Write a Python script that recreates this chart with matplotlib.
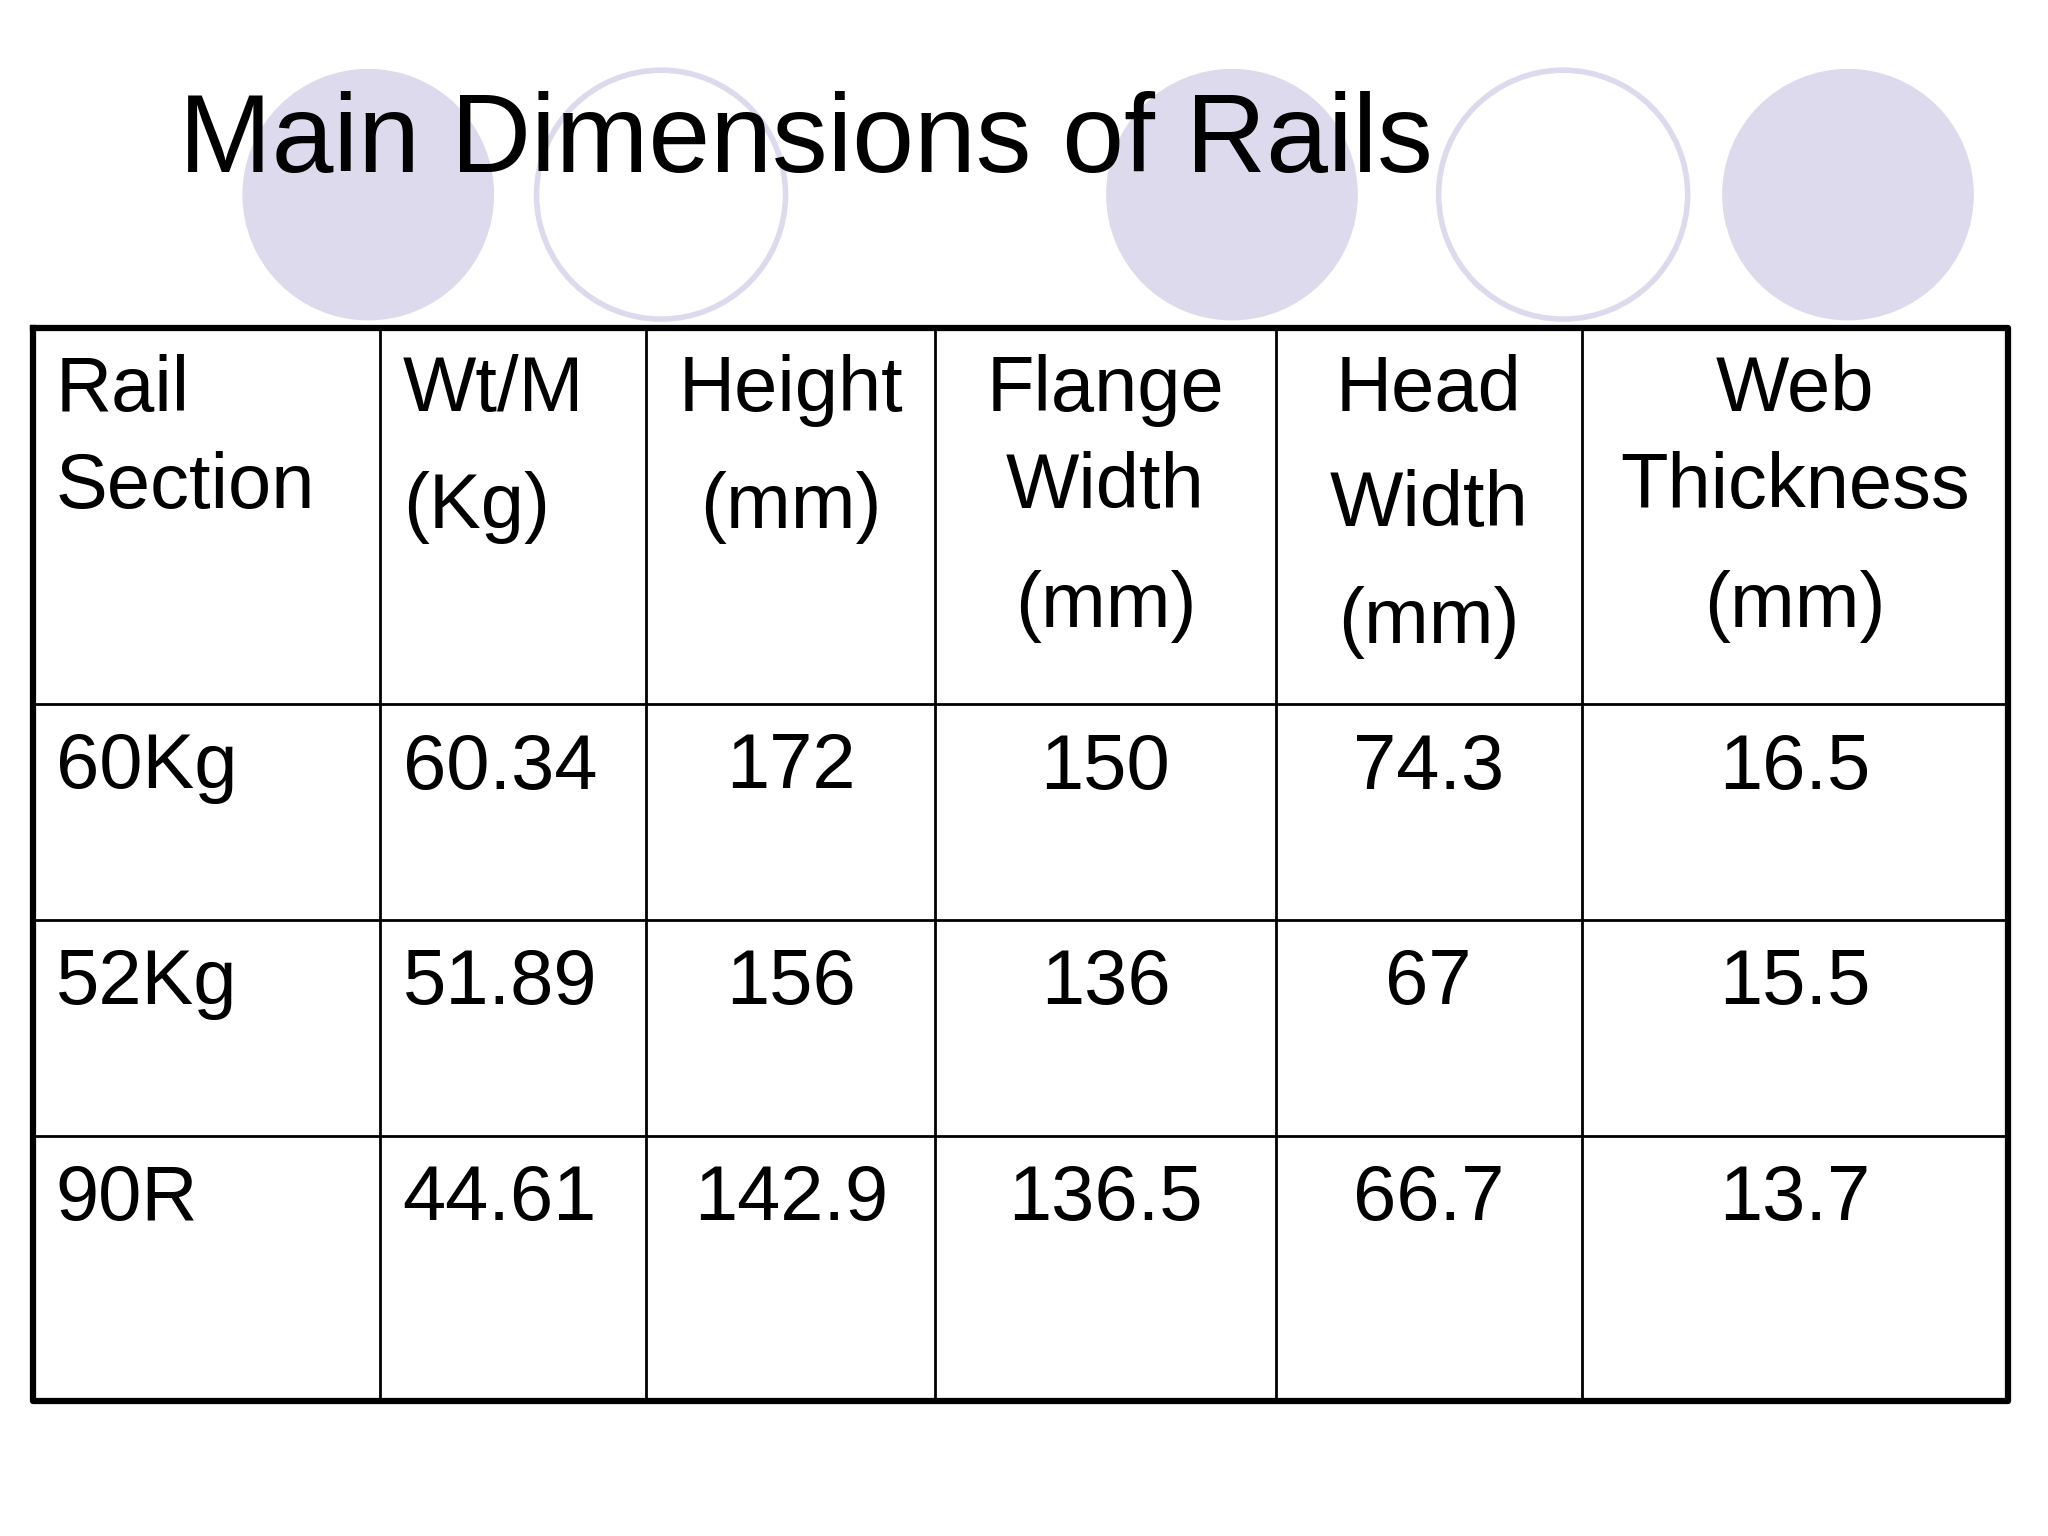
import matplotlib
matplotlib.use("Agg")
import matplotlib.pyplot as plt
from matplotlib.patches import Circle

plt.rcParams['font.family'] = ['Liberation Sans', 'DejaVu Sans']

title = "Main Dimensions of Rails"
headers = [["Rail", "Section"], ["Wt/M", "(Kg)"], ["Height", "(mm)"],
           ["Flange", "Width", "(mm)"], ["Head", "Width", "(mm)"], ["Web", "Thickness", "(mm)"]]
header_line_y = [[295, 368], [295, 383], [295, 383], [295, 368, 458], [295, 382, 470], [295, 368, 458]]
rail_sections = ["60Kg", "52Kg", "90R"]
wt_per_m = ["60.34", "51.89", "44.61"]
height = ["172", "156", "142.9"]
flange_width = ["150", "136", "136.5"]
head_width = ["74.3", "67", "66.7"]
web_thickness = ["16.5", "15.5", "13.7"]

W, H = 1546.0, 1160.0
fig = plt.figure(figsize=(20.48, 15.36), dpi=100)
ax = fig.add_axes([0, 0, 1, 1])
ax.set_xlim(0, W); ax.set_ylim(H, 0); ax.axis('off')

col_x = [25, 287, 488, 706, 963, 1194, 1516]
row_y = [248, 532, 695, 858, 1058]
circ = '#DCDAEC'
for cx, filled in [(278, True), (499, False), (930, True), (1180, False), (1395, True)]:
    if filled:
        ax.add_patch(Circle((cx, 147), 95, facecolor=circ, edgecolor='none'))
    else:
        ax.add_patch(Circle((cx, 147), 94, facecolor='white', edgecolor=circ, lw=4))

ax.text(135, 108, title, fontsize=80, ha='left', va='center', color='black')

for x in col_x[1:-1]:
    ax.plot([x, x], [row_y[0], row_y[-1]], color='black', lw=2)
for y in row_y[1:-1]:
    ax.plot([col_x[0], col_x[-1]], [y, y], color='black', lw=2)
ax.plot([col_x[0], col_x[-1], col_x[-1], col_x[0], col_x[0]],
        [row_y[0], row_y[0], row_y[-1], row_y[-1], row_y[0]], color='black', lw=4.5)

fs = 56
def place(ci, text, y):
    if ci < 2:
        ax.text(col_x[ci] + 17, y, text, fontsize=fs, ha='left', va='center')
    else:
        ax.text((col_x[ci] + col_x[ci + 1]) / 2, y, text, fontsize=fs, ha='center', va='center')

for ci, (lines, ys) in enumerate(zip(headers, header_line_y)):
    for t, y in zip(lines, ys):
        place(ci, t, y)

cols = [rail_sections, wt_per_m, height, flange_width, head_width, web_thickness]
for ri, y in enumerate([580, 743, 906]):
    for ci, col in enumerate(cols):
        place(ci, col[ri], y)

fig.savefig("out.png", dpi=100, facecolor='white')
